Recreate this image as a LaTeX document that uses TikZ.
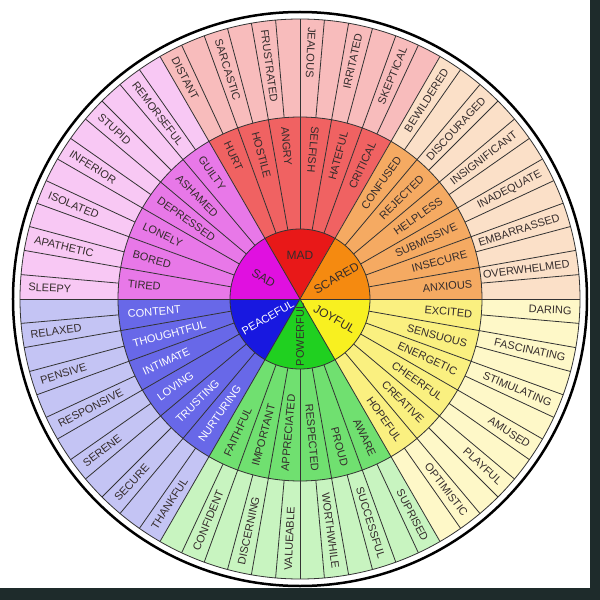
\documentclass[tikz,border=0pt]{standalone}
\usepackage{fontspec}
\setmainfont{Liberation Sans}
\definecolor{sadI}{HTML}{E010E0}\definecolor{sadM}{HTML}{E878E8}\definecolor{sadO}{HTML}{F8C8F4}
\definecolor{madI}{HTML}{E81818}\definecolor{madM}{HTML}{F06262}\definecolor{madO}{HTML}{F8BCBC}
\definecolor{scaI}{HTML}{F58A10}\definecolor{scaM}{HTML}{F5AA62}\definecolor{scaO}{HTML}{FBE0C8}
\definecolor{joyI}{HTML}{F8F020}\definecolor{joyM}{HTML}{FAF080}\definecolor{joyO}{HTML}{FEF8C8}
\definecolor{powI}{HTML}{20D020}\definecolor{powM}{HTML}{70E070}\definecolor{powO}{HTML}{C8F4C0}
\definecolor{peaI}{HTML}{1818E0}\definecolor{peaM}{HTML}{6868E8}\definecolor{peaO}{HTML}{C4C4F4}
\definecolor{txt}{HTML}{352C2C}
\definecolor{edge}{HTML}{1E2B2B}
\begin{document}
\begin{tikzpicture}[x=1pt,y=1pt,
  lbl/.style={font=\fontsize{11}{12}\selectfont, text=txt, inner sep=0pt},
  big/.style={font=\fontsize{12}{13}\selectfont, text=txt, inner sep=0pt},
  ln/.style={draw=black!80, line width=0.8pt}]
\useasboundingbox (-300,-301) rectangle (300,299);
\fill[white] (-300,-301) rectangle (300,299);
\fill[edge] (290,-301) rectangle (300,299);
\fill[edge] (-300,-301) rectangle (300,-289);
% sectors
\foreach \s/\c in {120/sad,60/mad,0/sca,-60/joy,-120/pow,180/pea}{
  \fill[\c O] (0,0) -- (\s:280) arc (\s:\s+60:280) -- cycle;
  \fill[\c M] (0,0) -- (\s:182) arc (\s:\s+60:182) -- cycle;
  \fill[\c I] (0,0) -- (\s:70) arc (\s:\s+60:70) -- cycle;
}
\foreach \a in {0,5,...,355} \draw[ln] (\a:182) -- (\a:280);
\foreach \a in {0,10,...,350} \draw[ln] (\a:70) -- (\a:182);
\foreach \a in {0,60,...,300} \draw[ln] (0,0) -- (\a:70);
\draw[ln] (0,0) circle (70);
\draw[ln] (0,0) circle (182);
\draw[ln] (0,0) circle (280);
\draw[black, line width=2.5pt] (0,0) circle (287);
% outer words
\foreach \a/\w in {117.5/DISTANT,107.5/SARCASTIC,97.5/FRUSTRATED,87.5/JEALOUS,77.5/IRRITATED,67.5/SKEPTICAL,
 57.5/BEWILDERED,47.5/DISCOURAGED,37.5/INSIGNIFICANT,27.5/INADEQUATE,17.5/EMBARRASSED,7.5/OVERWHELMED,
 -2.5/DARING,-12.5/FASCINATING,-22.5/STIMULATING,-32.5/AMUSED,-42.5/PLAYFUL,-52.5/OPTIMISTIC,
 -62.5/SUPRISED,-72.5/SUCCESSFUL,-82.5/WORTHWHILE,-92.5/VALUEABLE,-102.5/DISCERNING,-112.5/CONFIDENT,
 237.5/THANKFUL,227.5/SECURE,217.5/SERENE,207.5/RESPONSIVE,197.5/PENSIVE,187.5/RELAXED,
 177.5/SLEEPY,167.5/APATHETIC,157.5/ISOLATED,147.5/INFERIOR,137.5/STUPID,127.5/REMORSEFUL}{
  \pgfmathsetmacro\ang{mod(\a+360,360)}
  \pgfmathtruncatemacro\fl{and(\ang>84,\ang<270)}
  \ifnum\fl=1
    \node[lbl, rotate=\ang+180, anchor=west] (o-\w) at (\a:272) {\w};
  \else
    \node[lbl, rotate=\ang, anchor=east] (o-\w) at (\a:272) {\w};
  \fi
}
% middle words
\foreach \a/\w in {115/HURT,105/HOSTILE,95/ANGRY,85/SELFISH,75/HATEFUL,65/CRITICAL,
 55/CONFUSED,45/REJECTED,35/HELPLESS,25/SUBMISSIVE,15/INSECURE,5/ANXIOUS,
 -5/EXCITED,-15/SENSUOUS,-25/ENERGETIC,-35/CHEERFUL,-45/CREATIVE,-55/HOPEFUL,
 -65/AWARE,-75/PROUD,-85/RESPECTED,-95/APPRECIATED,-105/IMPORTANT,-115/FAITHFUL,
 235/NURTURING,225/TRUSTING,215/LOVING,205/INTIMATE,195/THOUGHTFUL,185/CONTENT,
 175/TIRED,165/BORED,155/LONELY,145/DEPRESSED,135/ASHAMED,125/GUILTY}{
  \pgfmathsetmacro\ang{mod(\a+360,360)}
  \pgfmathtruncatemacro\fl{and(\ang>84,\ang<270)}
  \pgfmathtruncatemacro\wh{and(\ang>180,\ang<240)}
  \ifnum\wh=1 \def\tc{white}\else\def\tc{txt}\fi
  \ifnum\fl=1
    \node[lbl, text=\tc, rotate=\ang+180, anchor=west] (m-\w) at (\a:173) {\w};
  \else
    \node[lbl, text=\tc, rotate=\ang, anchor=east] (m-\w) at (\a:173) {\w};
  \fi
}
% inner words
\node[big] (i-mad) at (90:44) {MAD};
\node[big, rotate=30] (i-scared) at (30:42) {SCARED};
\node[big, rotate=-30] (i-joyful) at (-30:40) {JOYFUL};
\node[lbl, rotate=90] (i-powerful) at (-90:36) {POWERFUL};
\node[lbl, rotate=30, text=white] (i-peaceful) at (210:37) {PEACEFUL};
\node[big, rotate=-30] (i-sad) at (150:42) {SAD};
\end{tikzpicture}
\end{document}
